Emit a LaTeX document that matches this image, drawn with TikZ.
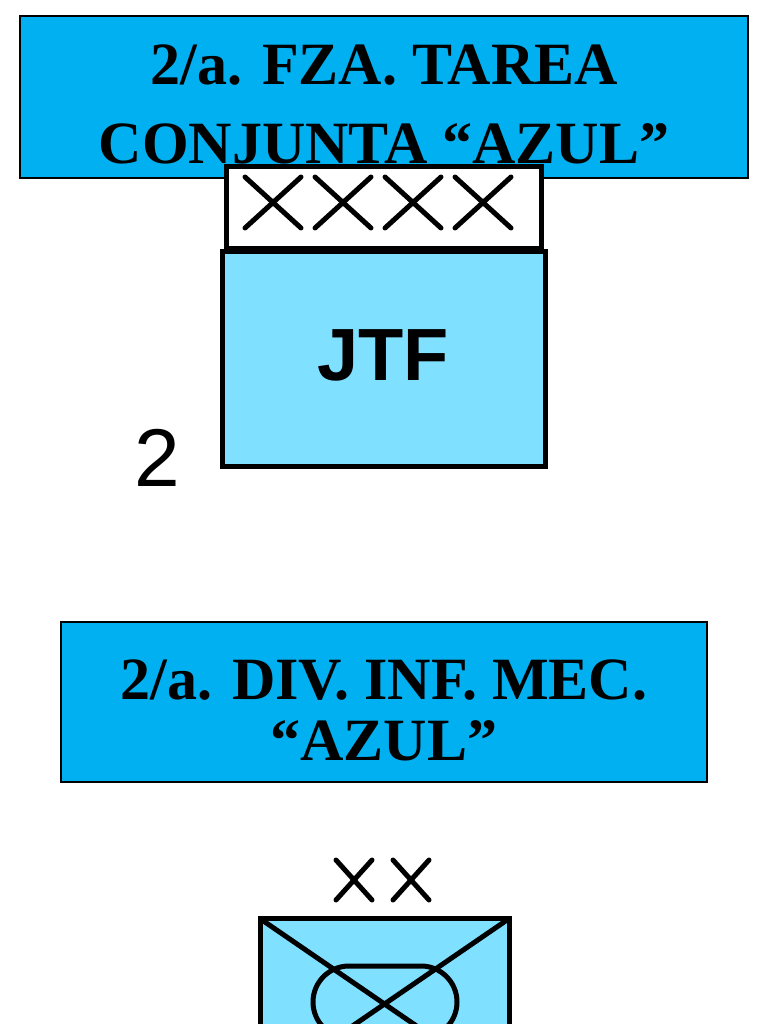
\documentclass[tikz,border=0pt]{standalone}
\usepackage{fontspec}
\setmainfont{Liberation Serif}
\setsansfont{Liberation Sans}
\definecolor{cyanb}{HTML}{00B0F0}
\definecolor{lightb}{HTML}{80E0FF}
\begin{document}
\begin{tikzpicture}[x=1pt,y=-1pt,
  title/.style={draw=black,line width=1.5pt,fill=cyanb},
  sym/.style={draw=black,line width=5pt,fill=lightb},
  cross/.style={line width=5pt,line cap=round},
  ttext/.style={font=\fontsize{60}{79}\selectfont\bfseries,align=center}]
\useasboundingbox (0,0) rectangle (768,1024);
\clip (0,0) rectangle (768,1024);
\fill[white] (0,0) rectangle (768,1024);
% top title
\draw[title] (20,16) rectangle (748,178);
\node[ttext] (t1) at (384,104) {2/a. FZA. TAREA\\CONJUNTA “AZUL”};
% XXXX box
\draw[draw=black,line width=5pt,fill=white] (226,167) rectangle (541,248);
\foreach \i in {0,1,2,3}{
  \draw[cross] ({245+\i*70},177) -- ({301+\i*70},228);
  \draw[cross] ({301+\i*70},177) -- ({245+\i*70},228);
}
\draw[sym] (222,251) rectangle (545,466);
\node[font=\fontsize{74}{74}\selectfont\sffamily\bfseries] (jtf) at (383,355) {JTF};
\node[font=\fontsize{82}{82}\selectfont\sffamily] (two) at (157,458) {2};
% second title
\draw[title] (61,622) rectangle (707,782);
\node[ttext,font=\fontsize{60}{61}\selectfont\bfseries] (t2) at (384,710) {2/a. DIV. INF. MEC.\\“AZUL”};
% XX
\foreach \i in {0,1}{
  \draw[cross] ({336+\i*57},860) -- ({372+\i*57},900);
  \draw[cross] ({372+\i*57},860) -- ({336+\i*57},900);
}
\draw[sym] (260,918) rectangle (509,1090);
\draw[line width=5pt,rounded corners=36pt] (313,966) rectangle (457,1038);
\draw[line width=5pt] (262,920) -- (507,1088);
\draw[line width=5pt] (507,920) -- (262,1088);
\end{tikzpicture}
\end{document}
